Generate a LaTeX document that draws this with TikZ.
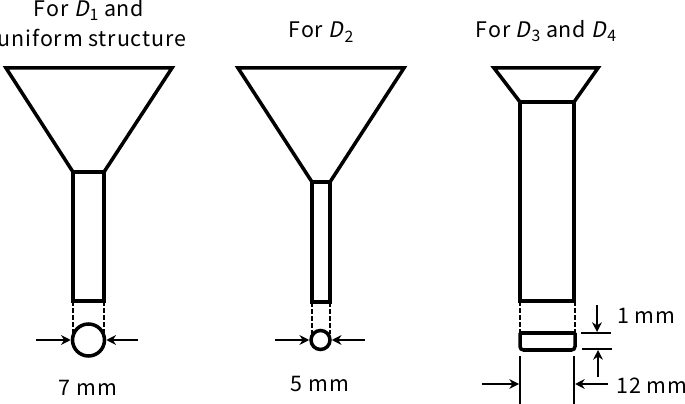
\documentclass[tikz,border=0pt]{standalone}
\usepackage{fontspec}
\usetikzlibrary{arrows.meta}
\setmainfont[AutoFakeSlant=0.2,LetterSpace=4]{Noto Sans CJK JP}
\newcommand{\tsub}[1]{\textit{D}\raisebox{-.4ex}{\small #1}}
\tikzset{
    wall/.style={line width=2pt, line join=miter},
    guide/.style={line width=.7pt, dash pattern=on 3pt off 1pt},
    dimline/.style={line width=.8pt},
    dimarrow/.style={-{Stealth[length=5.5pt,width=5.5pt]}, line width=1.3pt},
    lbl/.style={inner sep=0pt, font=\fontsize{12.2}{14}\selectfont}
}
\begin{document}
\begin{tikzpicture}[x=.02cm,y=-.02cm]
    \useasboundingbox (0,0) rectangle (685,404);
    % labels
    \node[lbl] (titleA) at (89,10) {For \tsub{1} and};
    \node[lbl] (titleB) at (92,38) {uniform structure};
    \node[lbl] (titleC) at (321,32) {For \tsub{2}};
    \node[lbl] (titleD) at (546,31) {For \tsub{3} and \tsub{4}};
    \node[lbl] (sizeA) at (88,388) {7 mm};
    \node[lbl] (sizeB) at (320,384) {5 mm};
    \node[lbl,anchor=west] (sizeC) at (617,316) {1 mm};
    \node[lbl,anchor=west] (sizeD) at (616,386) {12 mm};
    % funnels
    \draw[wall] (6,68) -- (172,68) -- (104,172) -- (73,172) -- cycle;
    \draw[wall] (73,172) -- (73,301) -- (104,301) -- (104,172);
    \draw[wall] (238,68) -- (404,68) -- (330,182) -- (312,182) -- cycle;
    \draw[wall] (312,182) -- (312,302) -- (330,302) -- (330,182);
    \draw[wall] (494,68) -- (598,68) -- (574,102) -- (520,102) -- cycle;
    \draw[wall] (520,102) -- (520,301) -- (574,301) -- (574,102);
    % holes
    \node[wall,draw,circle,minimum size=.64cm,inner sep=0pt] (holeA) at (88.5,340) {};
    \node[wall,draw,circle,minimum size=.38cm,inner sep=0pt] (holeB) at (320.5,340) {};
    \draw[wall] (520,333) -- (575,333);
    \draw[wall,rounded corners=2pt] (520,333) -- (520,350) -- (575,350) -- (575,333);
    % dashed guides
    \draw[guide] (73,301) -- (73,333);
    \draw[guide] (104,301) -- (104,333);
    \draw[guide] (312,302) -- (312,334);
    \draw[guide] (330,302) -- (330,334);
    \draw[guide] (520,301) -- (520,333);
    \draw[guide] (575,301) -- (575,333);
    % dimensions
    \draw[dimarrow] (36,340) -- (holeA.west);
    \draw[dimarrow] (138,340) -- (holeA.east);
    \draw[dimarrow] (275,340) -- (holeB.west);
    \draw[dimarrow] (365,340) -- (holeB.east);
    \draw[dimline] (581,333) -- (611,333);
    \draw[dimline] (582,349) -- (612,349);
    \draw[dimarrow] (597,305) -- (597,332);
    \draw[dimarrow] (598,377) -- (598,350);
    \draw[dimline] (520,356) -- (520,404);
    \draw[dimline] (574,356) -- (574,404);
    \draw[dimarrow] (482,384) -- (519,384);
    \draw[dimarrow] (608,384) -- (575,384);
\end{tikzpicture}
\end{document}
